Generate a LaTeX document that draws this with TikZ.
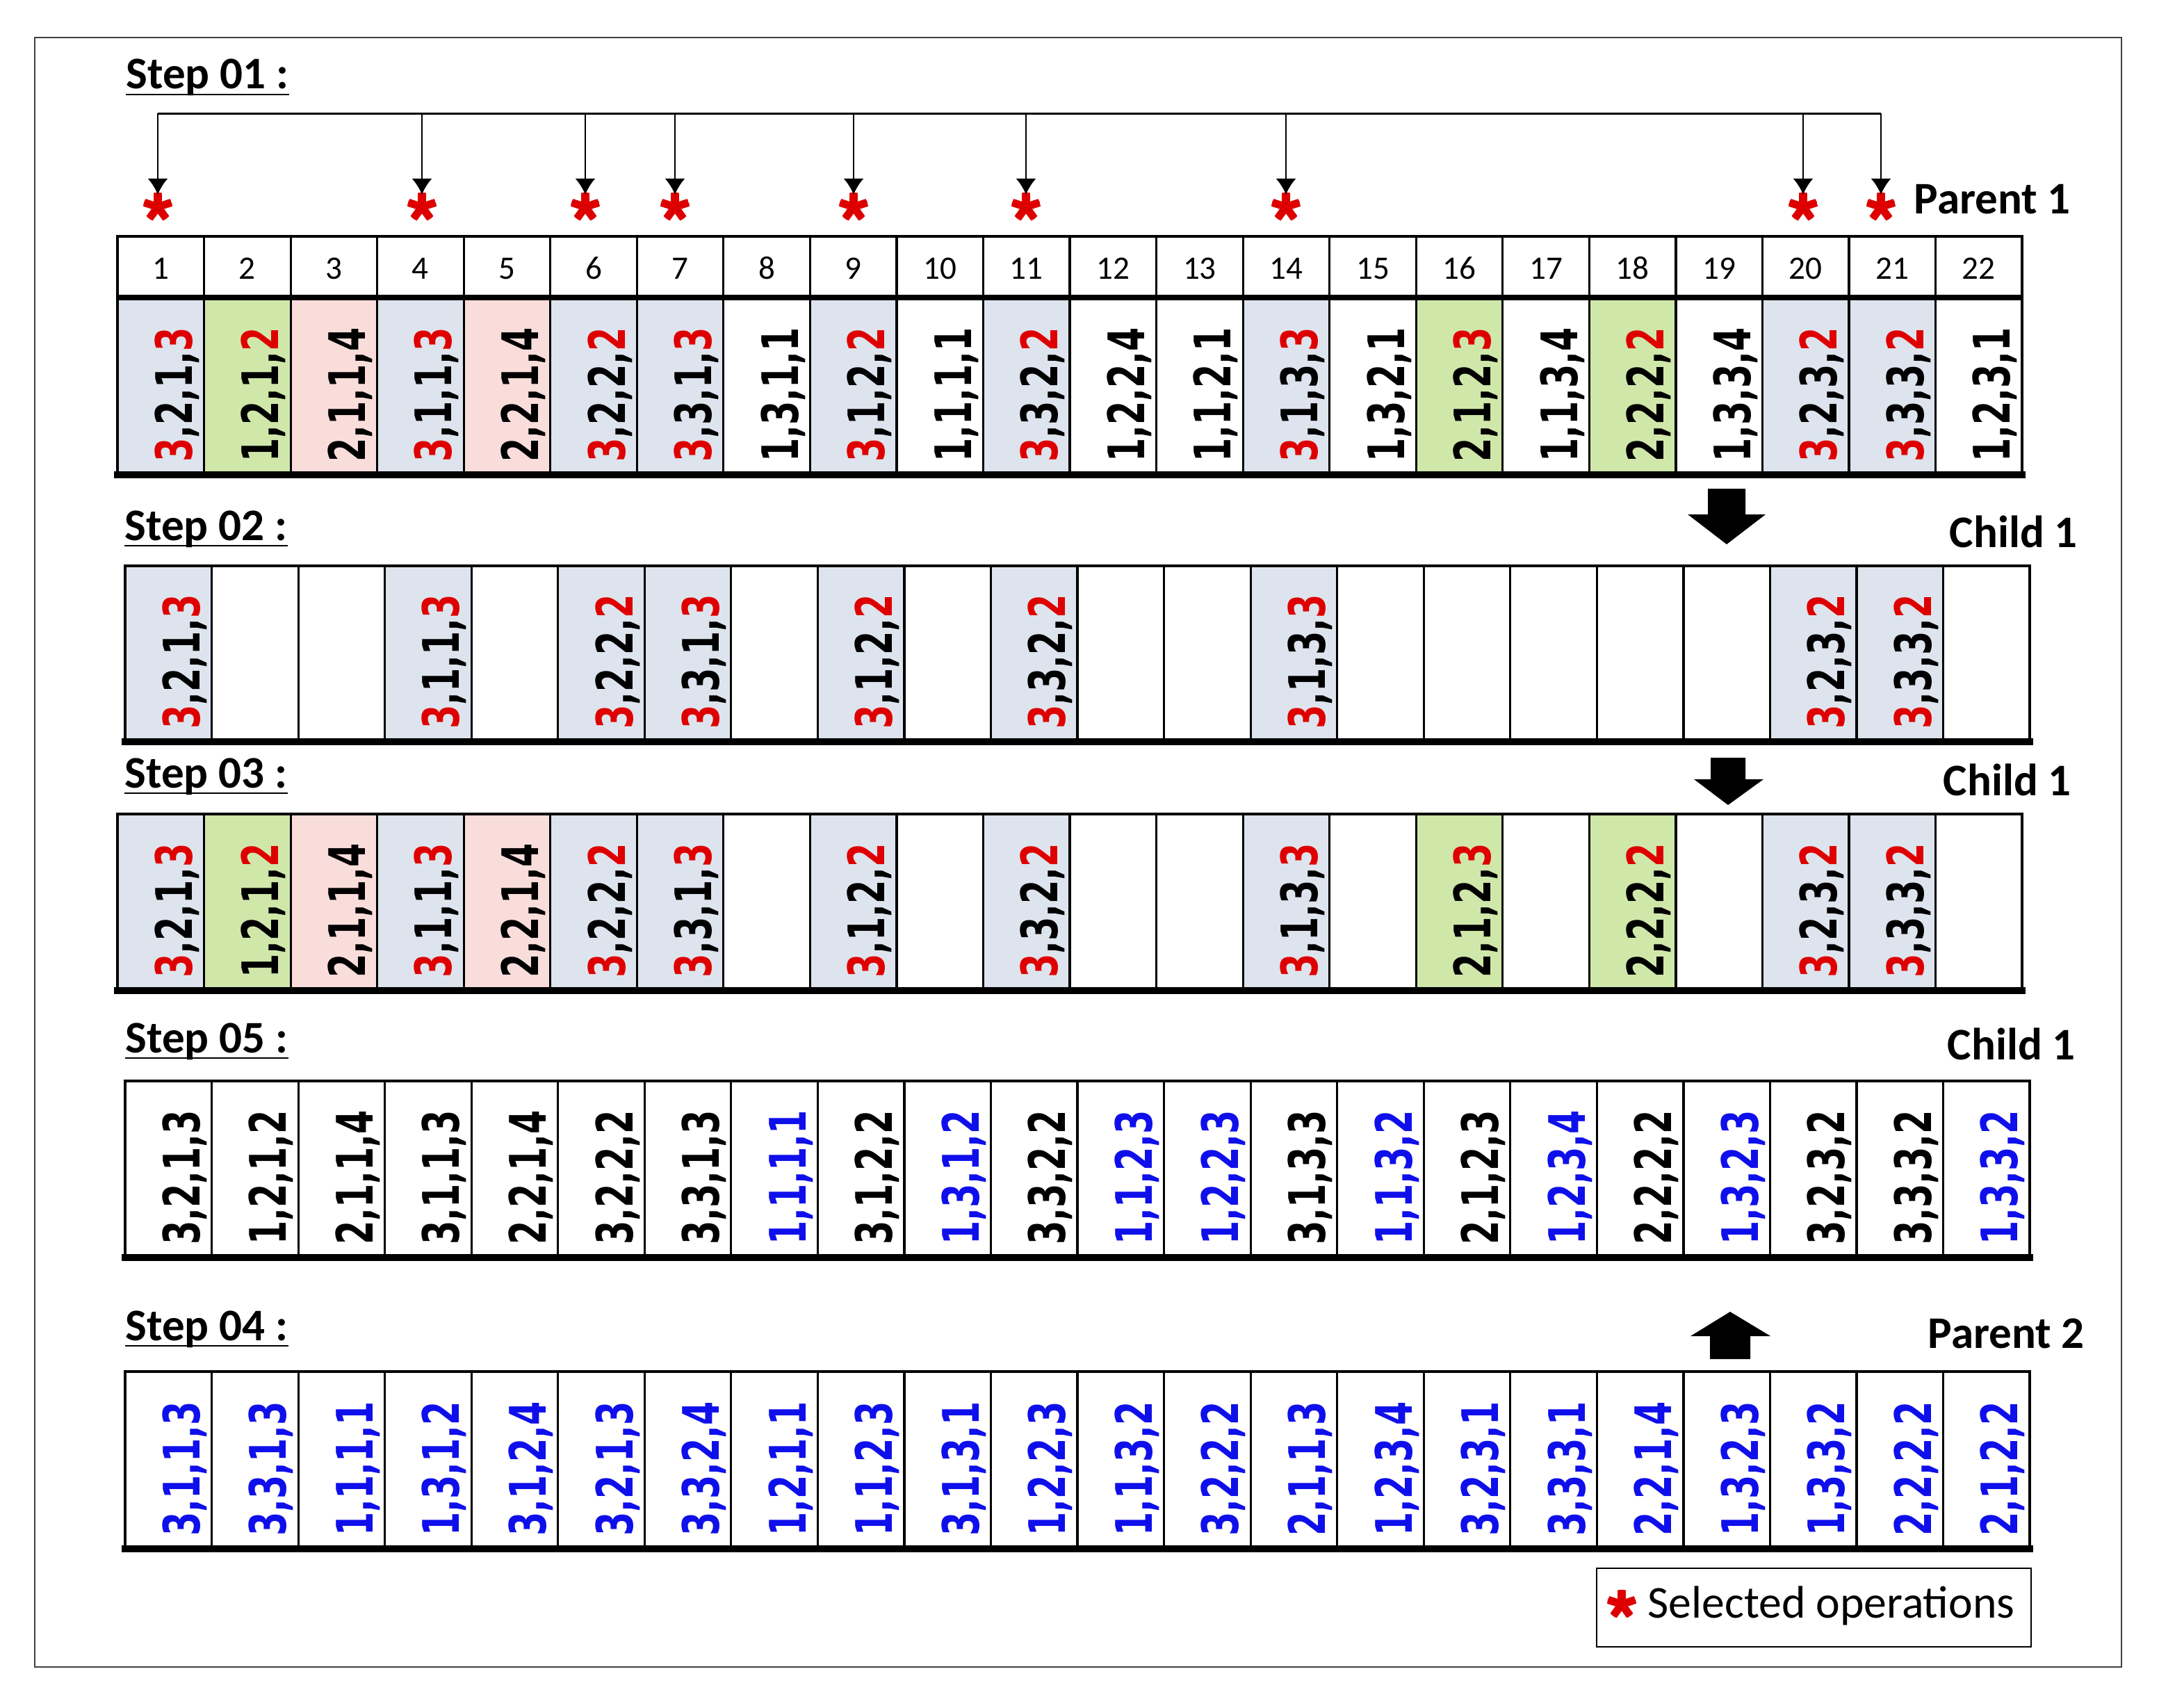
\documentclass[tikz,border=0pt]{standalone}
\usepackage{fontspec}
\setmainfont{Carlito}
\newfontfamily\genefont{DejaVu Sans}[FakeStretch=0.68]
\usetikzlibrary{arrows.meta}
\definecolor{opgray}{RGB}{222,228,237}
\definecolor{opgreen}{RGB}{208,231,170}
\definecolor{oppink}{RGB}{249,221,219}
\definecolor{opred}{RGB}{222,0,0}
\definecolor{opblue}{RGB}{15,15,235}
\newcommand\rd[1]{\textcolor{opred}{#1}}

\begin{document}
\begin{tikzpicture}[cell/.style={draw, line width=0.9pt, inner sep=0pt, outer sep=0pt, minimum width=1.2455cm},
			gene/.style={rotate=90, anchor=base west, inner sep=0pt,
				font=\genefont\bfseries\fontsize{20.6}{24}\selectfont},
			idx/.style={anchor=base, inner sep=0pt, font=\fontsize{13.4}{16}\selectfont},
			steplab/.style={anchor=base west, inner sep=0pt, font=\bfseries\fontsize{18.5}{22}\selectfont},
			rowlab/.style={anchor=base west, inner sep=0pt, font=\bfseries\fontsize{18.5}{22}\selectfont},
			selmark/.style={circle, anchor=north, inner sep=0pt, minimum size=0.42cm,
				path picture={\foreach \a in {90,18,162,234,306}
					\draw[opred, line width=3.2pt] (path picture bounding box.center) -- +(\a:0.21cm);}},
			>={Latex[length=2.3mm,width=2.9mm]}]
	\useasboundingbox (0,0) rectangle (31.06,-24.57);
	\draw[black!75, line width=0.8pt] (0.50,-0.54) rectangle (30.52,-23.98);
	% step labels
	\foreach \n/\s/\x/\y in {st1/01/1.81/-1.28, st2/02/1.79/-7.77, st3/03/1.79/-11.33, st5/05/1.80/-15.14, st4/04/1.80/-19.28} {
		\node[steplab] (\n) at (\x,\y) {Step \s\ :};
		\draw[line width=0.8pt] ([yshift=-0.8mm]\n.base west) -- ([yshift=-0.8mm]\n.base east);
	}
	\node[rowlab] (pl1) at (27.53,-3.08) {Parent 1};
	\node[rowlab] (cl2) at (28.04,-7.87) {Child 1};
	\node[rowlab] (cl3) at (27.95,-11.44) {Child 1};
	\node[rowlab] (cl5) at (28.01,-15.24) {Child 1};
	\node[rowlab] (pl2) at (27.73,-19.39) {Parent 2};
	% selected operations of parent 1
	\foreach \i/\x in {1/2.27, 4/6.07, 6/8.42, 7/9.71, 9/12.28, 11/14.76, 14/18.50, 20/25.94, 21/27.06} {
		\coordinate (t\i) at (\x,-1.635);
		\node[selmark] (s\i) at (\x,-2.76) {};
		\draw[line width=0.8pt, ->] (t\i) -- ([yshift=-0.4mm]s\i.north);
	}
	\draw[line width=0.8pt] (t1) -- (t21);
	% step 01 : parent 1
	\foreach \i/\f/\t in {1/opgray/{\rd3,2,1,\rd3}, 2/opgreen/{1,2,1,\rd2}, 3/oppink/{2,1,1,4},
			4/opgray/{\rd3,1,1,\rd3}, 5/oppink/{2,2,1,4}, 6/opgray/{\rd3,2,2,\rd2}, 7/opgray/{\rd3,3,1,\rd3},
			8/white/{1,3,1,1}, 9/opgray/{\rd3,1,2,\rd2}, 10/white/{1,1,1,1}, 11/opgray/{\rd3,3,2,\rd2},
			12/white/{1,2,2,4}, 13/white/{1,1,2,1}, 14/opgray/{\rd3,1,3,\rd3}, 15/white/{1,3,2,1},
			16/opgreen/{2,1,2,\rd3}, 17/white/{1,1,3,4}, 18/opgreen/{2,2,2,\rd2}, 19/white/{1,3,3,4},
			20/opgray/{\rd3,2,3,\rd2}, 21/opgray/{\rd3,3,3,\rd2}, 22/white/{1,2,3,1}} {
		\node[cell, minimum height=0.88cm] (pn\i) at ({1.69+(\i-0.5)*1.2455},-3.84) {};
		\node[idx] (pnt\i) at ([yshift=-1.8mm]pn\i) {\i};
		\node[cell, fill=\f, minimum height=2.55cm] (pa\i) at ({1.69+(\i-0.5)*1.2455},-5.555) {};
		\node[gene] (pat\i) at ([xshift=4.5mm, yshift=1.8mm]pa\i.south) {\t};
	}
	\draw[line width=2pt] (pn1.south west) -- (pn22.south east);
	% step 02 : child 1, selected operations kept
	\fill (24.57,-7.03) -- (25.11,-7.03) -- (25.11,-7.40) -- (25.40,-7.40) -- (24.84,-7.83) -- (24.28,-7.40) -- (24.57,-7.40) -- cycle;
	\foreach \i in {1,...,22}
		\node[cell, minimum height=2.53cm] (cb\i) at ({1.80+(\i-0.5)*1.2455},-9.405) {};
	\foreach \i/\t in {1/{\rd3,2,1,\rd3}, 4/{\rd3,1,1,\rd3}, 6/{\rd3,2,2,\rd2}, 7/{\rd3,3,1,\rd3},
			9/{\rd3,1,2,\rd2}, 11/{\rd3,3,2,\rd2}, 14/{\rd3,1,3,\rd3}, 20/{\rd3,2,3,\rd2}, 21/{\rd3,3,3,\rd2}} {
		\node[cell, fill=opgray, minimum height=2.53cm] (cbf\i) at (cb\i) {};
		\node[gene] (cbt\i) at ([xshift=4.5mm, yshift=1.8mm]cbf\i.south) {\t};
	}
	% step 03 : child 1, coloured operations kept
	\fill (24.61,-10.90) -- (25.11,-10.90) -- (25.11,-11.21) -- (25.37,-11.21) -- (24.86,-11.58) -- (24.37,-11.21) -- (24.61,-11.21) -- cycle;
	\foreach \i in {1,...,22}
		\node[cell, minimum height=2.54cm] (cc\i) at ({1.69+(\i-0.5)*1.2455},-12.98) {};
	\foreach \i/\f/\t in {1/opgray/{\rd3,2,1,\rd3}, 2/opgreen/{1,2,1,\rd2}, 3/oppink/{2,1,1,4},
			4/opgray/{\rd3,1,1,\rd3}, 5/oppink/{2,2,1,4}, 6/opgray/{\rd3,2,2,\rd2}, 7/opgray/{\rd3,3,1,\rd3},
			9/opgray/{\rd3,1,2,\rd2}, 11/opgray/{\rd3,3,2,\rd2}, 14/opgray/{\rd3,1,3,\rd3},
			16/opgreen/{2,1,2,\rd3}, 18/opgreen/{2,2,2,\rd2}, 20/opgray/{\rd3,2,3,\rd2}, 21/opgray/{\rd3,3,3,\rd2}} {
		\node[cell, fill=\f, minimum height=2.54cm] (ccf\i) at (cc\i) {};
		\node[gene] (cct\i) at ([xshift=4.5mm, yshift=1.8mm]ccf\i.south) {\t};
	}
	% step 05 : child 1 completed from parent 2
	\foreach \i/\c/\t in {1/black/{3,2,1,3}, 2/black/{1,2,1,2}, 3/black/{2,1,1,4}, 4/black/{3,1,1,3},
			5/black/{2,2,1,4}, 6/black/{3,2,2,2}, 7/black/{3,3,1,3}, 8/opblue/{1,1,1,1}, 9/black/{3,1,2,2},
			10/opblue/{1,3,1,2}, 11/black/{3,3,2,2}, 12/opblue/{1,1,2,3}, 13/opblue/{1,2,2,3},
			14/black/{3,1,3,3}, 15/opblue/{1,1,3,2}, 16/black/{2,1,2,3}, 17/opblue/{1,2,3,4},
			18/black/{2,2,2,2}, 19/opblue/{1,3,2,3}, 20/black/{3,2,3,2}, 21/black/{3,3,3,2}, 22/opblue/{1,3,3,2}} {
		\node[cell, minimum height=2.54cm] (cd\i) at ({1.80+(\i-0.5)*1.2455},-16.82) {};
		\node[gene, text=\c] (cdt\i) at ([xshift=4.5mm, yshift=1.8mm]cd\i.south) {\t};
	}
	% step 04 : parent 2
	\fill (24.60,-19.55) -- (25.18,-19.55) -- (25.18,-19.22) -- (25.47,-19.22) -- (24.89,-18.87) -- (24.32,-19.22) -- (24.60,-19.22) -- cycle;
	\foreach \i/\t in {1/{3,1,1,3}, 2/{3,3,1,3}, 3/{1,1,1,1}, 4/{1,3,1,2}, 5/{3,1,2,4}, 6/{3,2,1,3},
			7/{3,3,2,4}, 8/{1,2,1,1}, 9/{1,1,2,3}, 10/{3,1,3,1}, 11/{1,2,2,3}, 12/{1,1,3,2}, 13/{3,2,2,2},
			14/{2,1,1,3}, 15/{1,2,3,4}, 16/{3,2,3,1}, 17/{3,3,3,1}, 18/{2,2,1,4}, 19/{1,3,2,3},
			20/{1,3,3,2}, 21/{2,2,2,2}, 22/{2,1,2,2}} {
		\node[cell, minimum height=2.55cm] (pb\i) at ({1.80+(\i-0.5)*1.2455},-21.005) {};
		\node[gene, text=opblue] (pbt\i) at ([xshift=4.5mm, yshift=1.8mm]pb\i.south) {\t};
	}
	% outlines of the rows
	\foreach \ra/\rb in {pn/pa, cb/cb, cc/cc, cd/cd, pb/pb} {
		\draw[line width=1.3pt, line cap=rect] (\rb1.south west) -- (\ra1.north west) -- (\ra22.north east) -- (\rb22.south east);
		\draw[line width=2.6pt, line cap=rect] (\rb1.south west) -- (\rb22.south east);
	}
	% legend
	\node[draw, line width=0.8pt, minimum width=6.25cm, minimum height=1.13cm, inner sep=0pt] (leg) at (26.095,-23.125) {};
	\node[selmark] (legs) at (23.33,-22.86) {};
	\node[anchor=base west, inner sep=0pt, font=\fontsize{18.7}{22}\selectfont] (legt) at (23.70,-23.27) {Selected operations};
\end{tikzpicture}
\end{document}
